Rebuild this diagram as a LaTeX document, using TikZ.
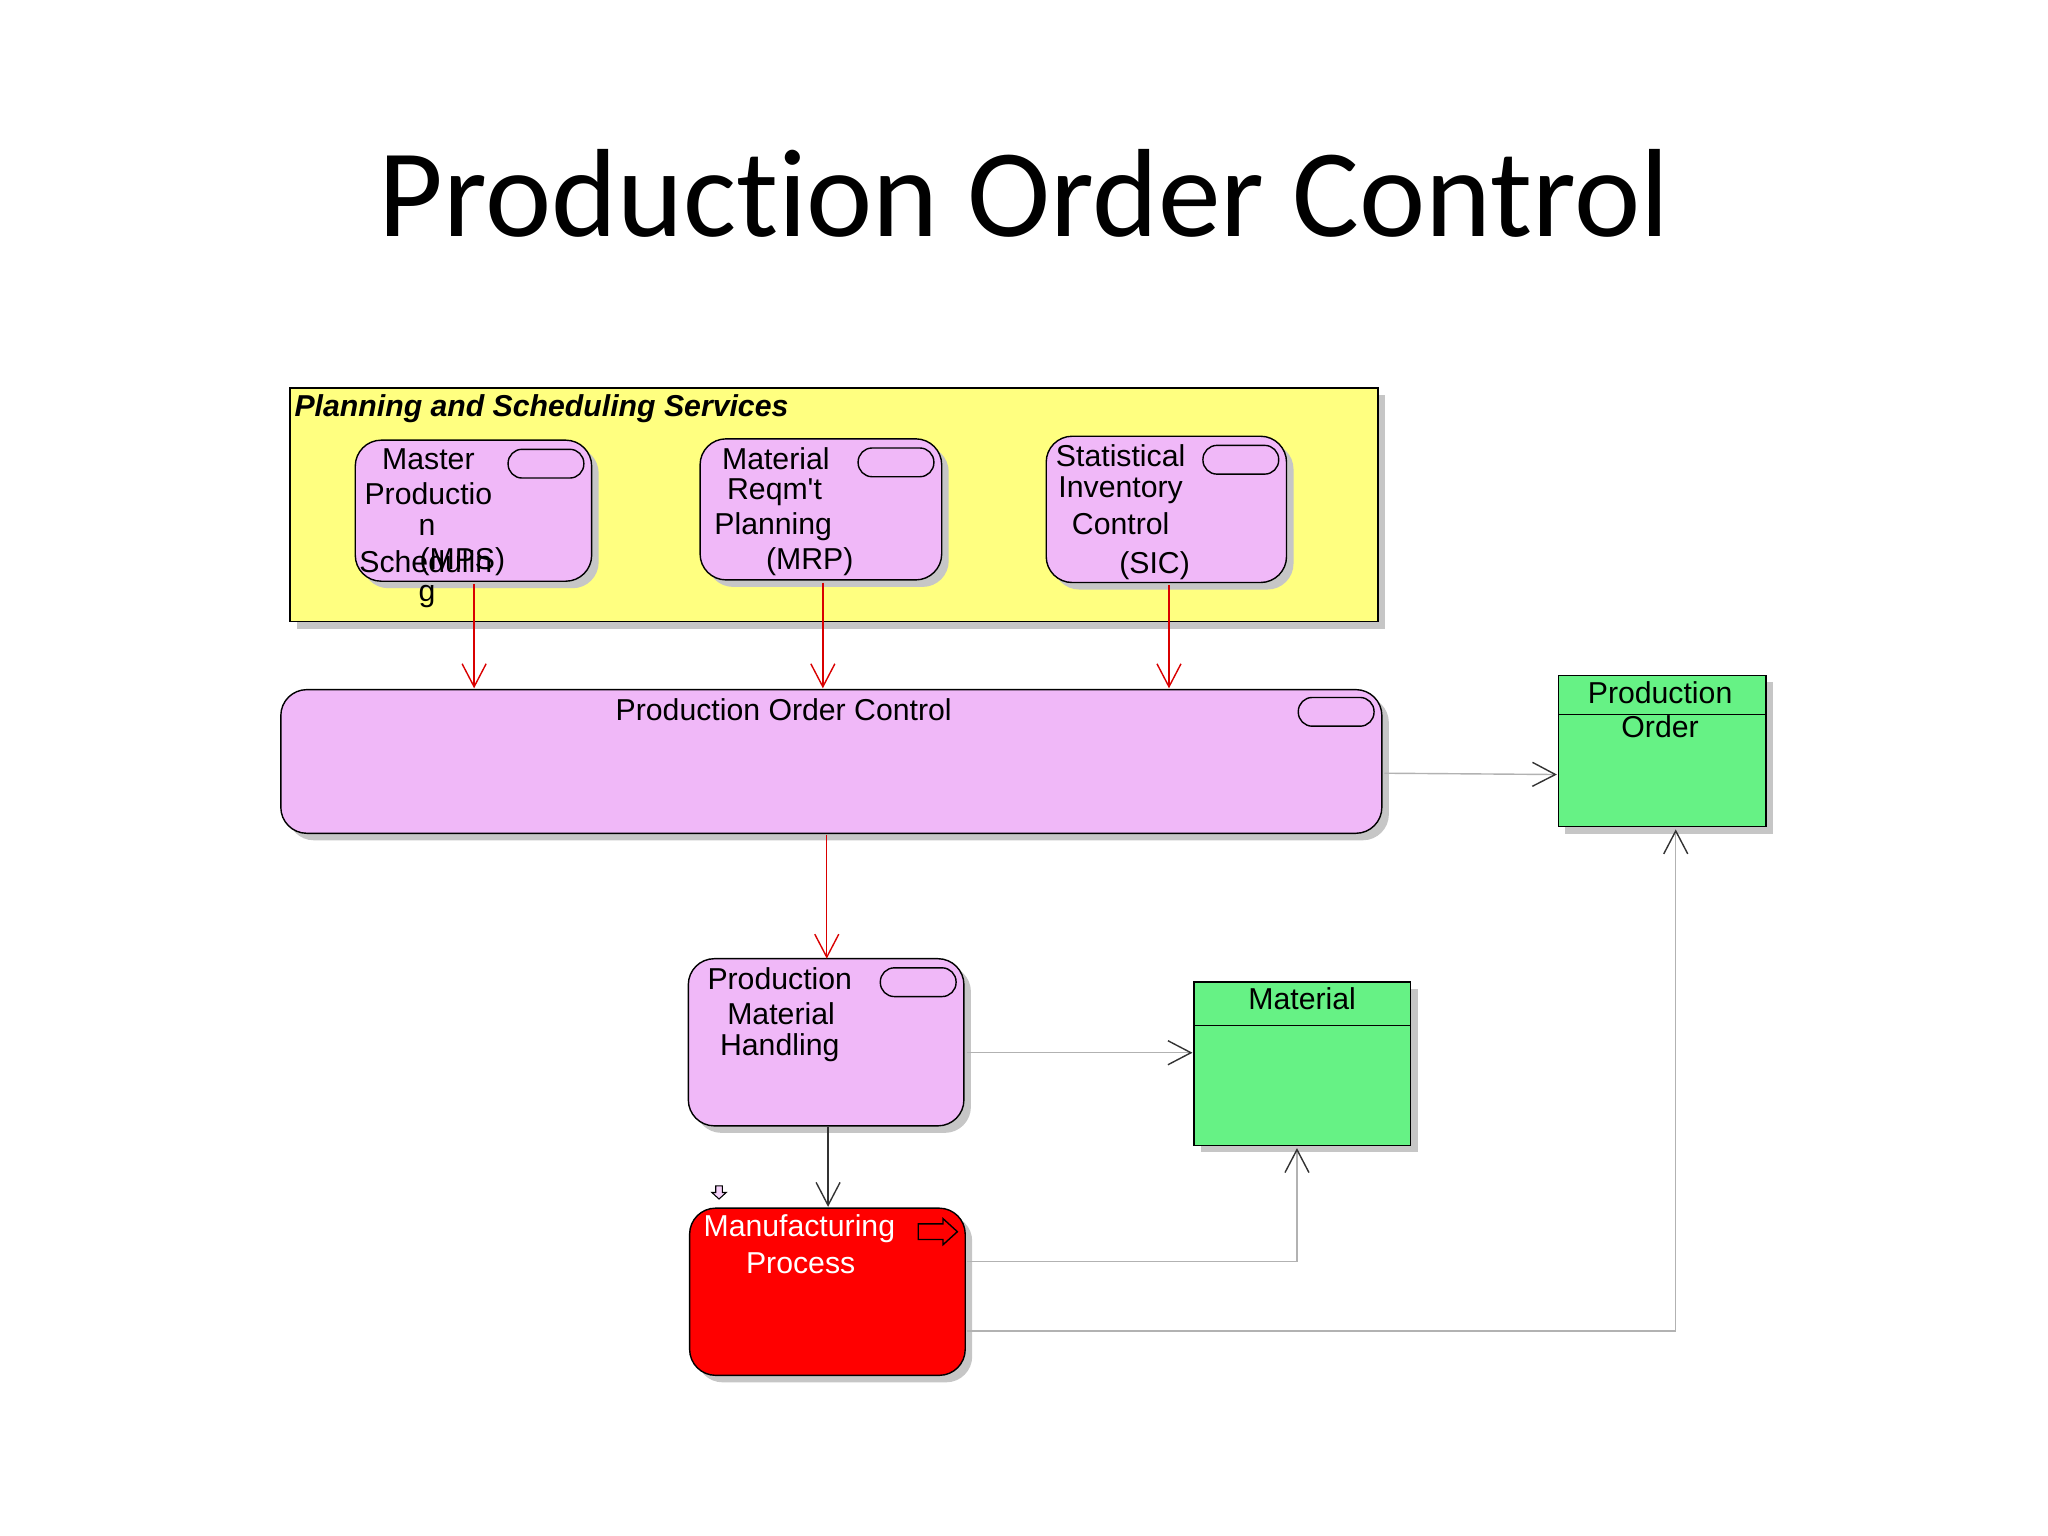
\documentclass[tikz,border=0pt]{standalone}
\usepackage{fontspec}
\setmainfont{Liberation Sans}
\newfontfamily\titlefont{Carlito}[Ligatures=NoCommon]
\usetikzlibrary{arrows.meta,shadows,calc}
\def\u{0.013061cm}
\definecolor{pink}{HTML}{F0B8F8}
\definecolor{yel}{HTML}{FFFF80}
\definecolor{grn}{HTML}{66F285}
\tikzset{
 x=0.013061cm,y=-0.013061cm,
 shad/.style={drop shadow={shadow xshift=0.07cm,shadow yshift=-0.07cm,opacity=1,fill=gray!45}},
 box/.style={draw=black,fill=pink,rounded corners=0.26cm,shad,inner sep=0pt},
 gbox/.style={draw=black,fill=grn,shad,inner sep=0pt},
 oval/.style={draw=black,rounded corners=0.14cm,minimum width={58*\u},minimum height={22*\u},inner sep=0pt},
 txt/.style={font=\fontsize{8.6}{10}\selectfont,inner sep=0pt},
 rarr/.style={draw=red!85!black,-{Straight Barb[length=2.3mm,width=2.4mm]}},
 garr/.style={draw=gray!60,-{Straight Barb[length=2.3mm,width=2.4mm,color=black!80]}},
 barr/.style={draw=black!80,-{Straight Barb[length=2.3mm,width=2.4mm]}},
}
\begin{document}
\begin{tikzpicture}
\useasboundingbox (0,0) rectangle (1568,1176);
\node[txt,font=\titlefont\fontsize{35.7}{42}\selectfont] (title) at (784,148) {Production Order Control};
% planning
\node[draw=black,fill=yel,shad,minimum width={833*\u},minimum height={179*\u}] (plan) at (638.5,386.5) {};
\node[txt,anchor=west,font=\fontsize{8.6}{10}\selectfont\bfseries\itshape] (plant) at (225,313) {Planning and Scheduling Services};
\node[box,minimum width={181*\u},minimum height={108*\u}] (mps) at (362.5,391) {};
\node[box,minimum width={185*\u},minimum height={108*\u}] (mrp) at (628.5,390) {};
\node[box,minimum width={184*\u},minimum height={112*\u}] (sic) at (893,390) {};
\node[oval] (o1) at (418,355) {};
\node[oval] (o2) at (686,354) {};
\node[oval] (o3) at (950,352) {};
\node[txt] at (328,352) {Master};
\node[txt] at (328,378) {Productio};
\node[txt] at (327,404) {n};
\node[txt] at (326,430) {Schedulin};
\node[txt] at (327,457) {g};
\node[txt] at (354,430) {(MPS)};
\node[txt] at (594,351) {Material};
\node[txt] at (593,377) {Reqm\textquotesingle t};
\node[txt] at (592,403) {Planning};
\node[txt] at (620,430) {(MRP)};
\node[txt] at (858,349) {Statistical};
\node[txt] at (858,375) {Inventory};
\node[txt] at (858,401) {Control};
\node[txt] at (884,433) {(SIC)};
% POC
\node[box,minimum width={843*\u},minimum height={110*\u}] (poc) at (636.5,583) {};
\node[txt] at (600,543) {Production Order Control};
\node[oval] (o4) at (1023,545) {};
% PO
\node[gbox,minimum width={159*\u},minimum height={116*\u}] (po) at (1272.5,575) {};
\draw (1193,547) -- (1352,547);
\node[txt] at (1271,530) {Production};
\node[txt] at (1271,556) {Order};
% PMH
\node[box,minimum width={211*\u},minimum height={128*\u}] (pmh) at (632.5,798) {};
\node[txt] at (597,749) {Production};
\node[txt] at (598,776) {Material};
\node[txt] at (597,802) {Handling};
\node[oval] (o5) at (703,752) {};
% Material
\node[gbox,minimum width={166*\u},minimum height={125*\u}] (mat) at (997,814.5) {};
\draw (914,785) -- (1080,785);
\node[txt] at (997,765) {Material};
% MP
\node[box,fill=red,minimum width={211*\u},minimum height={128*\u}] (mp) at (633.5,989) {};
\node[txt,text=white] at (612,941) {Manufacturing};
\node[txt,text=white] at (613,967) {Process};
\draw[black,fill=red] (703,937) -- (722,937) -- (722,933) -- (733,943) -- (722,953) -- (722,949) -- (703,949) -- cycle;
\draw[draw=black,fill=pink!60,line width=0.3pt] (548,908) -- (553,908) -- (553,913) -- (556,913) -- (550.5,918) -- (545,913) -- (548,913) -- cycle;
% connectors
\coordinate (a1) at (363,447); \coordinate (b1) at (363,527);
\coordinate (a2) at (630,446); \coordinate (b2) at (630,527);
\coordinate (a3) at (895,448); \coordinate (b3) at (895,527);
\draw[rarr] (a1) -- (b1);
\draw[rarr] (a2) -- (b2);
\draw[rarr] (a3) -- (b3);
\coordinate (c1) at (1060,592); \coordinate (d1) at (1192,593);
\draw[garr] (c1) -- (d1);
\draw[rarr] (633,639) -- (633,734);
\draw[garr] (740,806) -- (913,806);
\draw[barr] (634,863) -- (634,924);
\draw[garr] (740,966) -- (993,966) -- (993,879);
\draw[garr] (740,1019) -- (1283,1019) -- (1283,635);
\end{tikzpicture}
\end{document}
